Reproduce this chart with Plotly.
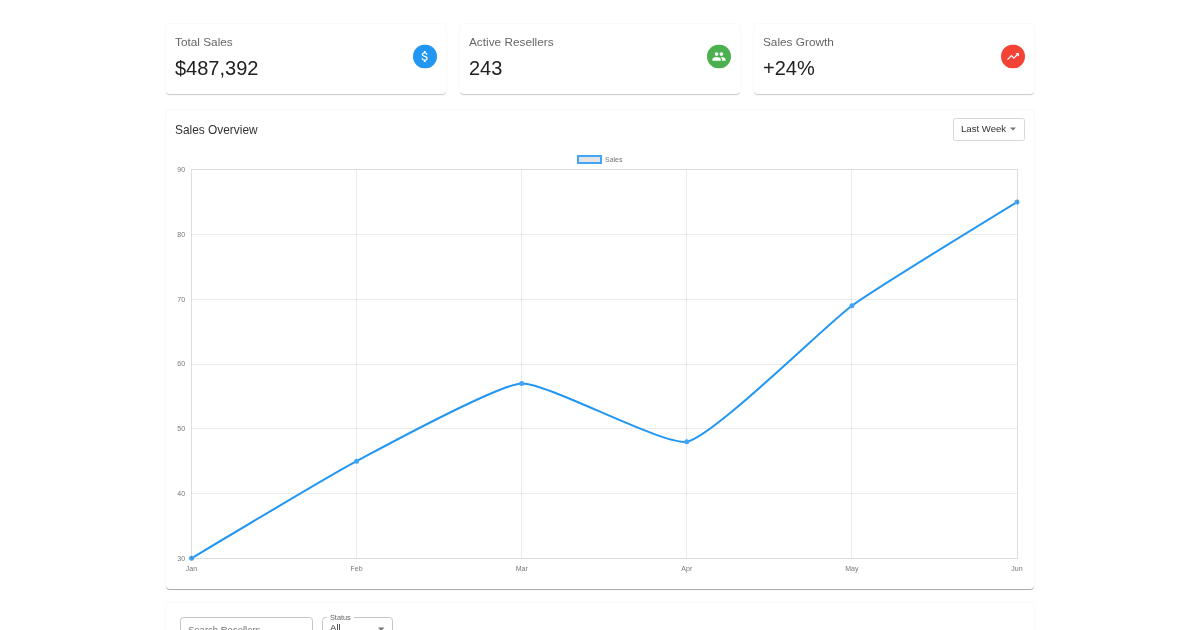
import base64

import plotly.graph_objects as go

months = ["Jan", "Feb", "Mar", "Apr", "May", "Jun"]
sales = [30, 45, 57, 48, 69, 85]
y_ticks = [30, 40, 50, 60, 70, 80, 90]

stat_labels = ["Total Sales", "Active Resellers", "Sales Growth"]
stat_values = ["$487,392", "243", "+24%"]
stat_colors = ["#2196f3", "#4caf50", "#f44336"]
stat_icons = [
    "M11.8 10.9c-2.27-.59-3-1.2-3-2.15 0-1.09 1.01-1.85 2.7-1.85 1.78 0 2.44.85 2.5 2.1h2.21c-.07-1.72-1.12-3.3-3.21-3.81V3h-3v2.16c-1.94.42-3.5 1.68-3.5 3.61 0 2.31 1.91 3.46 4.7 4.13 2.5.6 3 1.48 3 2.41 0 .69-.49 1.79-2.7 1.79-2.06 0-2.87-.92-2.98-2.1h-2.2c.12 2.19 1.76 3.42 3.68 3.83V21h3v-2.15c1.95-.37 3.5-1.5 3.5-3.55 0-2.84-2.43-3.81-4.7-4.4z",
    "M16 11c1.66 0 2.99-1.34 2.99-3S17.66 5 16 5c-1.66 0-3 1.34-3 3s1.34 3 3 3zm-8 0c1.66 0 2.99-1.34 2.99-3S9.66 5 8 5C6.34 5 5 6.34 5 8s1.34 3 3 3zm0 2c-2.33 0-7 1.17-7 3.5V19h14v-2.5c0-2.33-4.67-3.5-7-3.5zm8 0c-.29 0-.62.02-.97.05 1.16.84 1.97 1.97 1.97 3.45V19h6v-2.5c0-2.33-4.67-3.5-7-3.5z",
    "M16 6l2.29 2.29-4.88 4.88-4-4L2 16.59 3.41 18l6-6 4 4 6.3-6.29L22 12V6z",
]

W = 1200
H = 630
FONT = "Liberation Sans"
BLUE = "#2196f3"


def px(x):
    return x / W


def py(y):
    return 1 - y / H


def round_rect(x0, y0, x1, y1, r, fill, line=None, width=1):
    path = (
        f"M {px(x0 + r)} {py(y0)} L {px(x1 - r)} {py(y0)} Q {px(x1)} {py(y0)} {px(x1)} {py(y0 + r)} "
        f"L {px(x1)} {py(y1 - r)} Q {px(x1)} {py(y1)} {px(x1 - r)} {py(y1)} "
        f"L {px(x0 + r)} {py(y1)} Q {px(x0)} {py(y1)} {px(x0)} {py(y1 - r)} "
        f"L {px(x0)} {py(y0 + r)} Q {px(x0)} {py(y0)} {px(x0 + r)} {py(y0)} Z"
    )
    return dict(
        type="path",
        path=path,
        xref="paper",
        yref="paper",
        fillcolor=fill,
        line=dict(color=line or "rgba(0,0,0,0)", width=width if line else 0),
        layer="below",
    )


def card(x0, y0, x1, y1, shadow=0.18):
    # material style shadow, built up from a few faint offset boxes
    return [
        round_rect(x0 - 1, y0 - 1, x1 + 1, y1 + 2, 4, "rgba(0,0,0,0.02)"),
        round_rect(x0, y0 + 1, x1, y1 + 1, 4, f"rgba(0,0,0,{shadow})"),
        round_rect(x0, y0, x1, y1, 4, "#ffffff"),
    ]


def label(x, y, text, size, color, anchor="left"):
    # annotations sit 1.5px right of the x they are given
    return dict(
        x=px(x - 1.5),
        y=py(y),
        xref="paper",
        yref="paper",
        text=text,
        showarrow=False,
        xanchor=anchor,
        yanchor="middle",
        borderpad=0,
        font=dict(family=FONT, size=size, color=color),
    )


def icon_image(color, path, cx, cy):
    svg = (
        '<svg xmlns="http://www.w3.org/2000/svg" width="48" height="48" viewBox="0 0 48 48">'
        f'<circle cx="24" cy="24" r="24" fill="{color}"/>'
        f'<g transform="translate(9.6 9.6) scale(1.2)"><path fill="#fff" d="{path}"/></g></svg>'
    )
    src = "data:image/svg+xml;base64," + base64.b64encode(svg.encode()).decode()
    return dict(
        source=src,
        xref="paper",
        yref="paper",
        x=px(cx - 12),
        y=py(cy - 12),
        sizex=24 / W,
        sizey=24 / H,
        xanchor="left",
        yanchor="top",
        sizing="stretch",
        layer="above",
    )


fig = go.Figure()
fig.add_trace(
    go.Scatter(
        x=months,
        y=sales,
        name="Sales",
        mode="lines+markers",
        line=dict(color=BLUE, width=2, shape="spline", smoothing=0.45),
        marker=dict(color="#42a5f5", size=5, line=dict(width=0)),
        cliponaxis=False,
        showlegend=False,
    )
)

shapes = []
annotations = []
images = []
card_lefts = [166, 460, 754]
for i in range(3):
    left = card_lefts[i]
    shapes += card(left, 24, left + 280, 94)
    annotations.append(label(left + 9.5, 42, stat_labels[i], 11.8, "#666666"))
    annotations.append(label(left + 9.5, 68, stat_values[i], 20, "#212121"))
    images.append(icon_image(stat_colors[i], stat_icons[i], left + 259, 56.5))

shapes += card(166, 110, 1034, 589, shadow=0.3)
shapes += card(166, 603, 1034, 660)

annotations.append(label(175.5, 130.3, "Sales Overview", 11.9, "#333333"))
shapes.append(round_rect(953.5, 118.5, 1024.5, 140.5, 2, "#ffffff", "#d8d8d8"))
annotations.append(label(961.5, 129, "Last Week", 9.6, "#333333"))
shapes.append(
    dict(
        type="path",
        path=f"M {px(1010)} {py(127.5)} L {px(1016)} {py(127.5)} L {px(1013)} {py(130.5)} Z",
        xref="paper",
        yref="paper",
        fillcolor="#757575",
        line=dict(width=0),
    )
)

# legend swatch of the chart
shapes.append(round_rect(578, 156, 601, 163, 0, "#e4e4e4", "#42a5f5", 2))
annotations.append(label(605, 159, "Sales", 7, "#777777"))

# filter row cut off by the bottom of the page
shapes.append(round_rect(180.5, 617.5, 312.5, 660, 3, "#ffffff", "#c4c4c4"))
annotations.append(label(188, 629, "Search Resellers", 9.5, "#757575"))
shapes.append(round_rect(322.5, 617.5, 392.5, 660, 3, "#ffffff", "#c4c4c4"))
shapes.append(
    dict(
        type="rect",
        x0=px(327),
        x1=px(354),
        y0=py(619),
        y1=py(615),
        xref="paper",
        yref="paper",
        fillcolor="#ffffff",
        line=dict(width=0),
        layer="below",
    )
)
annotations.append(label(330.5, 617, "Status", 7.3, "#666666"))
annotations.append(label(330.5, 627.5, "All", 9.6, "#333333"))
shapes.append(
    dict(
        type="path",
        path=f"M {px(378)} {py(627.5)} L {px(384.5)} {py(627.5)} L {px(381.2)} {py(631)} Z",
        xref="paper",
        yref="paper",
        fillcolor="#757575",
        line=dict(width=0),
    )
)

fig.update_layout(
    width=W,
    height=H,
    margin=dict(l=0, r=0, t=0, b=0, autoexpand=False),
    paper_bgcolor="#ffffff",
    plot_bgcolor="rgba(0,0,0,0)",
    showlegend=False,
    shapes=shapes,
    annotations=annotations,
    images=images,
    font=dict(family=FONT),
    xaxis=dict(
        domain=[px(191.5), px(1017)],
        range=[0, len(months) - 1],
        type="category",
        categoryorder="array",
        categoryarray=months,
        showgrid=True,
        gridcolor="rgba(0,0,0,0.08)",
        gridwidth=1,
        zeroline=False,
        showline=True,
        mirror=True,
        linecolor="rgba(0,0,0,0.13)",
        ticks="outside",
        ticklen=3,
        tickcolor="rgba(0,0,0,0)",
        tickfont=dict(family=FONT, size=7, color="#777777"),
    ),
    yaxis=dict(
        domain=[py(558.3), py(169.7)],
        range=[30, 90],
        tickvals=y_ticks,
        showgrid=True,
        gridcolor="rgba(0,0,0,0.08)",
        gridwidth=1,
        zeroline=False,
        showline=True,
        mirror=True,
        linecolor="rgba(0,0,0,0.13)",
        ticks="outside",
        ticklen=4,
        tickcolor="rgba(0,0,0,0)",
        tickfont=dict(family=FONT, size=7, color="#777777"),
    ),
)

fig.write_html(
    "out.html",
    config=dict(displayModeBar=False),
    post_script=(
        "document.body.style.margin='0';document.body.style.overflow='hidden';"
        "document.querySelectorAll('.main-svg').forEach(function(s){s.style.willChange='transform';});"
    ),
)
